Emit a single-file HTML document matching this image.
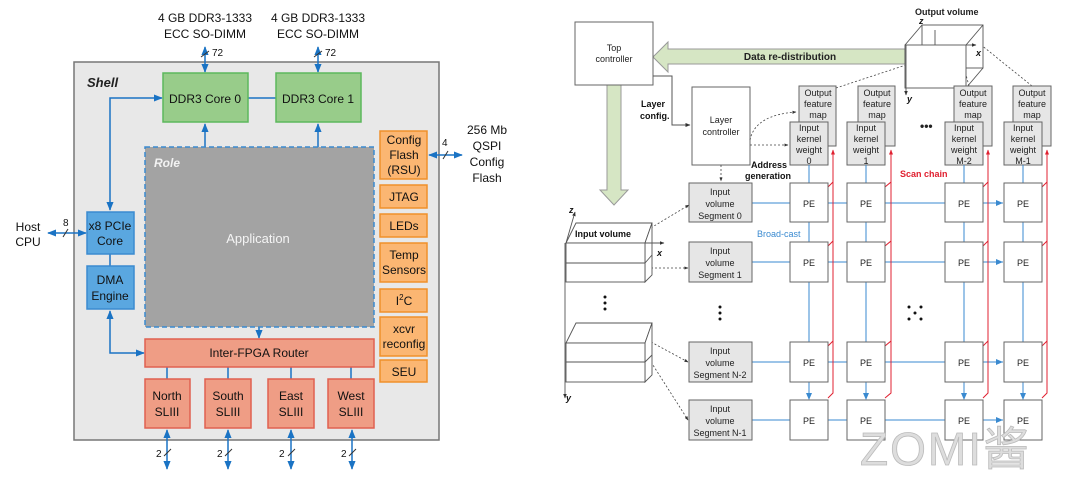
<!DOCTYPE html>
<html><head><meta charset="utf-8"><style>
html,body{margin:0;padding:0;background:#fff;}
svg{display:block;font-family:"Liberation Sans","Noto Sans CJK SC",sans-serif;}
</style></head><body>
<svg width="1080" height="479" viewBox="0 0 1080 479" xmlns="http://www.w3.org/2000/svg">
<defs>
<marker id="ab" viewBox="0 0 10 10" refX="9" refY="5" markerWidth="6" markerHeight="6" orient="auto-start-reverse"><path d="M0,1 L10,5 L0,9 z" fill="#1a73c4"/></marker>
<marker id="ak" viewBox="0 0 10 10" refX="9" refY="5" markerWidth="5" markerHeight="5" orient="auto-start-reverse"><path d="M0,1 L10,5 L0,9 z" fill="#333"/></marker>
<marker id="ar" viewBox="0 0 10 10" refX="9" refY="5" markerWidth="5" markerHeight="5" orient="auto"><path d="M0,1 L10,5 L0,9 z" fill="#e02030"/></marker>
</defs>
<!-- LEFT DIAGRAM -->
<rect x="74" y="62" width="365" height="378" fill="#e8e8e8" stroke="#777" stroke-width="1.5"/>
<text x="87" y="87" font-size="13" font-weight="bold" font-style="italic" fill="#222">Shell</text>
<g font-size="12" fill="#111" text-anchor="middle">
<text x="205" y="22">4 GB DDR3-1333</text><text x="205" y="38">ECC SO-DIMM</text>
<text x="318" y="22">4 GB DDR3-1333</text><text x="318" y="38">ECC SO-DIMM</text>
<text x="28" y="231">Host</text><text x="28" y="246">CPU</text>
<text x="487" y="134">256 Mb</text><text x="487" y="150">QSPI</text><text x="487" y="166">Config</text><text x="487" y="182">Flash</text>
</g>
<g font-size="10" fill="#111">
<text x="212" y="56">72</text><text x="325" y="56">72</text>
<text x="63" y="226">8</text><text x="442" y="146">4</text>
<text x="156" y="457">2</text><text x="217" y="457">2</text><text x="279" y="457">2</text><text x="341" y="457">2</text>
</g>
<g stroke="#1a73c4" stroke-width="1.5" fill="none">
<line x1="205" y1="47" x2="205" y2="72" marker-start="url(#ab)" marker-end="url(#ab)"/>
<line x1="318" y1="47" x2="318" y2="72" marker-start="url(#ab)" marker-end="url(#ab)"/>
<line x1="205" y1="124" x2="205" y2="156" marker-start="url(#ab)" marker-end="url(#ab)"/>
<line x1="318" y1="124" x2="318" y2="156" marker-start="url(#ab)" marker-end="url(#ab)"/>
<line x1="248" y1="98" x2="276" y2="98"/>
<polyline points="110,210 110,98 162,98" marker-start="url(#ab)" marker-end="url(#ab)"/>
<line x1="48" y1="233" x2="86" y2="233" marker-start="url(#ab)" marker-end="url(#ab)"/>
<line x1="110" y1="254" x2="110" y2="266"/>
<polyline points="110,311 110,353 144,353" marker-start="url(#ab)" marker-end="url(#ab)"/>
<line x1="259" y1="305" x2="259" y2="338" marker-start="url(#ab)" marker-end="url(#ab)"/>
<line x1="429" y1="155" x2="462" y2="155" marker-start="url(#ab)" marker-end="url(#ab)"/>
<line x1="167" y1="367" x2="167" y2="379"/><line x1="228" y1="367" x2="228" y2="379"/>
<line x1="291" y1="367" x2="291" y2="379"/><line x1="351" y1="367" x2="351" y2="379"/>
<line x1="167" y1="430" x2="167" y2="469" marker-start="url(#ab)" marker-end="url(#ab)"/>
<line x1="228" y1="430" x2="228" y2="469" marker-start="url(#ab)" marker-end="url(#ab)"/>
<line x1="291" y1="430" x2="291" y2="469" marker-start="url(#ab)" marker-end="url(#ab)"/>
<line x1="352" y1="430" x2="352" y2="469" marker-start="url(#ab)" marker-end="url(#ab)"/>
</g>
<g stroke="#333" stroke-width="1">
<line x1="201" y1="57" x2="209" y2="51"/><line x1="314" y1="57" x2="322" y2="51"/>
<line x1="63" y1="237" x2="68" y2="229"/><line x1="443" y1="159" x2="448" y2="151"/>
<line x1="164" y1="456" x2="171" y2="449"/><line x1="225" y1="456" x2="232" y2="449"/>
<line x1="288" y1="456" x2="295" y2="449"/><line x1="349" y1="456" x2="356" y2="449"/>
</g>
<g stroke="#5cb85c" stroke-width="1.5" fill="#98cc8a">
<rect x="163" y="73" width="85" height="49"/><rect x="276" y="73" width="85" height="49"/>
</g>
<g font-size="12" fill="#111" text-anchor="middle">
<text x="205" y="103">DDR3 Core 0</text><text x="318" y="103">DDR3 Core 1</text>
</g>
<rect x="145" y="147" width="229" height="180" fill="#a3a3a3" stroke="#3a8ad0" stroke-width="1.5" stroke-dasharray="5,3"/>
<text x="154" y="167" font-size="12" font-weight="bold" font-style="italic" fill="#f2f2f2">Role</text>
<text x="258" y="243" font-size="13" fill="#f4f4f4" text-anchor="middle">Application</text>
<g stroke="#3a8ad0" stroke-width="1.5" fill="#5aa7e0">
<rect x="87" y="212" width="47" height="42"/><rect x="87" y="266" width="47" height="43"/>
</g>
<g font-size="12" fill="#111" text-anchor="middle">
<text x="110" y="230">x8 PCIe</text><text x="110" y="245">Core</text>
<text x="110" y="284">DMA</text><text x="110" y="300">Engine</text>
</g>
<g stroke="#e06050" stroke-width="1.5" fill="#ef9d85">
<rect x="145" y="339" width="229" height="28"/>
<rect x="145" y="379" width="45" height="49"/><rect x="205" y="379" width="46" height="49"/>
<rect x="268" y="379" width="46" height="49"/><rect x="328" y="379" width="46" height="49"/>
</g>
<g font-size="12" fill="#111" text-anchor="middle">
<text x="259" y="357">Inter-FPGA Router</text>
<text x="167" y="400">North</text><text x="167" y="416">SLIII</text>
<text x="228" y="400">South</text><text x="228" y="416">SLIII</text>
<text x="291" y="400">East</text><text x="291" y="416">SLIII</text>
<text x="351" y="400">West</text><text x="351" y="416">SLIII</text>
</g>
<g stroke="#f0902a" stroke-width="1.5" fill="#fbb672">
<rect x="380" y="131" width="47" height="48"/><rect x="380" y="185" width="47" height="23"/>
<rect x="380" y="214" width="47" height="23"/><rect x="380" y="243" width="47" height="39"/>
<rect x="380" y="289" width="47" height="23"/><rect x="380" y="317" width="47" height="39"/>
<rect x="380" y="360" width="47" height="22"/>
</g>
<g font-size="12" fill="#111" text-anchor="middle">
<text x="404" y="144">Config</text><text x="404" y="159">Flash</text><text x="404" y="174">(RSU)</text>
<text x="404" y="201">JTAG</text><text x="404" y="230">LEDs</text>
<text x="404" y="259">Temp</text><text x="404" y="274">Sensors</text>
<text x="404" y="305">I<tspan font-size="8" dy="-5">2</tspan><tspan dy="5">C</tspan></text>
<text x="404" y="333">xcvr</text><text x="404" y="348">reconfig</text>
<text x="404" y="376">SEU</text>
</g>
<!-- RIGHT DIAGRAM -->
<polygon points="653,57 668,42 668,49 905,49 905,64 668,64 668,72" fill="#d6e6c4" stroke="#999" stroke-width="1"/>
<text x="790" y="60" font-size="10" font-weight="bold" fill="#222" text-anchor="middle">Data re-distribution</text>
<polygon points="607,85 621,85 621,190 628,190 614,205 600,190 607,190" fill="#d6e6c4" stroke="#999" stroke-width="1"/>
<rect x="575" y="22" width="78" height="63" fill="#fff" stroke="#666"/>
<g font-size="9" fill="#222" text-anchor="middle"><text x="614" y="51">Top</text><text x="614" y="62">controller</text></g>
<polyline points="653,76 672,76 672,125 690,125" fill="none" stroke="#555" marker-end="url(#ak)"/>
<g font-size="9" font-weight="bold" fill="#111"><text x="641" y="107">Layer</text><text x="640" y="119">config.</text></g>
<rect x="692" y="87" width="58" height="78" fill="#fff" stroke="#666"/>
<g font-size="9" fill="#222" text-anchor="middle"><text x="721" y="123">Layer</text><text x="721" y="135">controller</text></g>
<g font-size="9" font-weight="bold" fill="#111"><text x="751" y="168">Address</text><text x="745" y="179">generation</text></g>
<g stroke="#444" stroke-dasharray="2,2" fill="none" stroke-width="0.8">
<line x1="721" y1="165" x2="721" y2="181" marker-end="url(#ak)"/>
<line x1="750" y1="145" x2="788" y2="145" marker-end="url(#ak)"/>
<path d="M750,140 Q755,115 796,112" marker-end="url(#ak)"/>
<path d="M836,88 L906,65"/>
<path d="M969,86 L962,60"/>
<path d="M1032,86 L970,36" marker-end="url(#ak)"/>
<line x1="644" y1="232" x2="689" y2="205" marker-end="url(#ak)"/>
<line x1="651" y1="268" x2="688" y2="268" marker-end="url(#ak)"/>
<line x1="651" y1="342" x2="688" y2="362" marker-end="url(#ak)"/>
<line x1="651" y1="362" x2="688" y2="420" marker-end="url(#ak)"/>
</g>
<!-- output volume cube -->
<g stroke="#555" fill="none" stroke-width="0.9">
<rect x="922" y="25" width="61" height="43" fill="#fff"/>
<line x1="905" y1="45" x2="922" y2="25"/><line x1="966" y1="45" x2="983" y2="25"/>
<line x1="966" y1="88" x2="983" y2="68"/>
<line x1="935" y1="30" x2="935" y2="45"/>
<rect x="905" y="45" width="61" height="43" fill="#fff"/>
<line x1="906" y1="45" x2="906" y2="95" marker-end="url(#ak)"/>
<line x1="966" y1="45" x2="976" y2="45" marker-end="url(#ak)"/>
</g>
<text x="915" y="15" font-size="9" font-weight="bold" fill="#222">Output volume</text>
<g font-size="9" font-weight="bold" font-style="italic" fill="#111"><text x="919" y="24">z</text><text x="976" y="56">x</text><text x="907" y="102">y</text></g>
<!-- columns -->
<g stroke="#666" fill="#e6e6e6" stroke-width="1">
<rect x="799" y="86" width="37" height="60"/><rect x="790" y="122" width="38" height="43"/>
<rect x="858" y="86" width="37" height="60"/><rect x="847" y="122" width="38" height="43"/>
<rect x="954" y="86" width="38" height="60"/><rect x="945" y="122" width="38" height="43"/>
<rect x="1013" y="86" width="38" height="60"/><rect x="1004" y="122" width="38" height="43"/>
</g>
<g font-size="9" fill="#222" text-anchor="middle">
<text x="818" y="96">Output</text><text x="818" y="107">feature</text><text x="818" y="118">map</text>
<text x="809" y="131">Input</text><text x="809" y="142">kernel</text><text x="809" y="153">weight</text><text x="809" y="164">0</text>
<text x="877" y="96">Output</text><text x="877" y="107">feature</text><text x="877" y="118">map</text>
<text x="866" y="131">Input</text><text x="866" y="142">kernel</text><text x="866" y="153">weight</text><text x="866" y="164">1</text>
<text x="973" y="96">Output</text><text x="973" y="107">feature</text><text x="973" y="118">map</text>
<text x="964" y="131">Input</text><text x="964" y="142">kernel</text><text x="964" y="153">weight</text><text x="964" y="164">M-2</text>
<text x="1032" y="96">Output</text><text x="1032" y="107">feature</text><text x="1032" y="118">map</text>
<text x="1023" y="131">Input</text><text x="1023" y="142">kernel</text><text x="1023" y="153">weight</text><text x="1023" y="164">M-1</text>
</g>
<text x="920" y="130" font-size="12" font-weight="bold" fill="#222">•••</text>
<!-- blue grid -->
<g stroke="#3a8ad0" stroke-width="1" fill="none">
<line x1="809" y1="165" x2="809" y2="399" /><line x1="866" y1="165" x2="866" y2="399"/>
<line x1="964" y1="165" x2="964" y2="399"/><line x1="1023" y1="165" x2="1023" y2="399"/>
<line x1="752" y1="203" x2="1003" y2="203"/><line x1="752" y1="262" x2="1003" y2="262"/>
<line x1="752" y1="362" x2="1003" y2="362"/><line x1="752" y1="420" x2="1003" y2="420"/>
</g>
<g fill="#3a8ad0">
<path d="M996,200 L1003,203 L996,206z"/><path d="M996,259 L1003,262 L996,265z"/>
<path d="M996,359 L1003,362 L996,365z"/><path d="M996,417 L1003,420 L996,423z"/>
<path d="M806,393 L809,400 L812,393z"/><path d="M863,393 L866,400 L869,393z"/>
<path d="M961,393 L964,400 L967,393z"/><path d="M1020,393 L1023,400 L1026,393z"/>
</g>
<text x="757" y="237" font-size="9" fill="#3a8ad0">Broad-cast</text>
<text x="900" y="177" font-size="9" font-weight="bold" fill="#e02030">Scan chain</text>
<!-- red scan lines -->
<g stroke="#e02030" stroke-width="1" fill="none">
<polyline points="828,398 833,393 833,150" marker-end="url(#ar)"/>
<polyline points="885,398 891,393 891,150" marker-end="url(#ar)"/>
<polyline points="983,398 988,393 988,150" marker-end="url(#ar)"/>
<polyline points="1042,398 1047,393 1047,150" marker-end="url(#ar)"/>
<line x1="828" y1="187" x2="833" y2="182"/><line x1="885" y1="187" x2="891" y2="182"/><line x1="983" y1="187" x2="988" y2="182"/><line x1="1042" y1="187" x2="1047" y2="182"/>
<line x1="828" y1="246" x2="833" y2="241"/><line x1="885" y1="246" x2="891" y2="241"/><line x1="983" y1="246" x2="988" y2="241"/><line x1="1042" y1="246" x2="1047" y2="241"/>
<line x1="828" y1="346" x2="833" y2="341"/><line x1="885" y1="346" x2="891" y2="341"/><line x1="983" y1="346" x2="988" y2="341"/><line x1="1042" y1="346" x2="1047" y2="341"/>
</g>
<!-- PEs -->
<g stroke="#666" fill="#fff">
<rect x="790" y="183" width="38" height="39"/><rect x="847" y="183" width="38" height="39"/><rect x="945" y="183" width="38" height="39"/><rect x="1004" y="183" width="38" height="39"/>
<rect x="790" y="242" width="38" height="40"/><rect x="847" y="242" width="38" height="40"/><rect x="945" y="242" width="38" height="40"/><rect x="1004" y="242" width="38" height="40"/>
<rect x="790" y="342" width="38" height="40"/><rect x="847" y="342" width="38" height="40"/><rect x="945" y="342" width="38" height="40"/><rect x="1004" y="342" width="38" height="40"/>
<rect x="790" y="400" width="38" height="40"/><rect x="847" y="400" width="38" height="40"/><rect x="945" y="400" width="38" height="40"/><rect x="1004" y="400" width="38" height="40"/>
</g>
<g font-size="9" fill="#222" text-anchor="middle">
<text x="809" y="207">PE</text><text x="866" y="207">PE</text><text x="964" y="207">PE</text><text x="1023" y="207">PE</text>
<text x="809" y="266">PE</text><text x="866" y="266">PE</text><text x="964" y="266">PE</text><text x="1023" y="266">PE</text>
<text x="809" y="366">PE</text><text x="866" y="366">PE</text><text x="964" y="366">PE</text><text x="1023" y="366">PE</text>
<text x="809" y="424">PE</text><text x="866" y="424">PE</text><text x="964" y="424">PE</text><text x="1023" y="424">PE</text>
</g>
<!-- input segments -->
<g stroke="#666" fill="#e6e6e6">
<rect x="689" y="183" width="63" height="39"/><rect x="689" y="242" width="63" height="40"/>
<rect x="689" y="342" width="63" height="40"/><rect x="689" y="400" width="63" height="40"/>
</g>
<g font-size="9" fill="#222" text-anchor="middle">
<text x="720" y="195">Input</text><text x="720" y="207">volume</text><text x="720" y="219">Segment 0</text>
<text x="720" y="254">Input</text><text x="720" y="266">volume</text><text x="720" y="278">Segment 1</text>
<text x="720" y="354">Input</text><text x="720" y="366">volume</text><text x="720" y="378">Segment N-2</text>
<text x="720" y="412">Input</text><text x="720" y="424">volume</text><text x="720" y="436">Segment N-1</text>
</g>
<g fill="#111">
<circle cx="720" cy="307" r="1.5"/><circle cx="720" cy="313" r="1.5"/><circle cx="720" cy="319" r="1.5"/>
<circle cx="605" cy="297" r="1.5"/><circle cx="605" cy="303" r="1.5"/><circle cx="605" cy="309" r="1.5"/>
<circle cx="909" cy="307" r="1.5"/><circle cx="921" cy="307" r="1.5"/><circle cx="915" cy="313" r="1.5"/><circle cx="909" cy="319" r="1.5"/><circle cx="921" cy="319" r="1.5"/>
</g>
<!-- input volume -->
<g stroke="#555" fill="#fff" stroke-width="0.9">
<polygon points="566,243 576,223 652,223 645,243"/>
<polygon points="645,243 652,223 652,275 645,282"/>
<rect x="566" y="243" width="79" height="39"/><line x1="566" y1="263" x2="645" y2="263"/><line x1="645" y1="263" x2="652" y2="255"/>
<polygon points="566,343 576,323 652,323 645,343"/>
<polygon points="645,343 652,323 652,375 645,382"/>
<rect x="566" y="343" width="79" height="39"/><line x1="566" y1="362" x2="645" y2="362"/><line x1="645" y1="362" x2="652" y2="355"/>
<line x1="565" y1="243" x2="565" y2="398" marker-end="url(#ak)" fill="none"/>
<line x1="566" y1="243" x2="575" y2="212" marker-end="url(#ak)" fill="none"/>
<line x1="645" y1="243" x2="664" y2="243" marker-end="url(#ak)" fill="none"/>
</g>
<text x="575" y="237" font-size="9" font-weight="bold" fill="#111">Input volume</text>
<g font-size="9" font-weight="bold" font-style="italic" fill="#111"><text x="569" y="213">z</text><text x="657" y="256">x</text><text x="566" y="401">y</text></g>
<!-- watermark -->
<text x="860" y="465" font-size="46" fill="#ddd" stroke="#bbb" stroke-width="0.8" letter-spacing="2">ZOMI酱</text>
</svg>
</body></html>
